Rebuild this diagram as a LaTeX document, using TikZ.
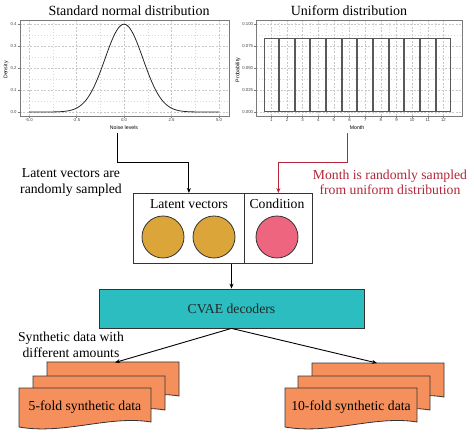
\documentclass[tikz,border=0pt]{standalone}
\usepackage{fontspec}
\setmainfont{Liberation Serif}
\setsansfont{Liberation Sans}
\usetikzlibrary{arrows.meta}
\definecolor{goldc}{HTML}{DBA53A}
\definecolor{pinkc}{HTML}{EE6580}
\definecolor{tealc}{HTML}{2BBDBF}
\definecolor{orngc}{HTML}{F5905C}
\definecolor{redt}{HTML}{B3263A}
\definecolor{gridc}{HTML}{C8C8C8}
\definecolor{framec}{HTML}{7A7A7A}
\newcommand\mydoc[2]{\begin{scope}[shift={(#1,#2)}]\draw[docst] (0,0) -- (132,0) -- (132,34) .. controls (90,27) and (45,47) .. (0,39) -- cycle;\end{scope}}
\begin{document}
\begin{tikzpicture}[x=1pt,y=-1pt,
  titlest/.style={font=\fontsize{14}{16}\selectfont, inner sep=0pt},
  lbl/.style={font=\fontsize{13.7}{15.5}\selectfont, align=center, inner sep=0pt},
  ticklbl/.style={font=\fontsize{4.3}{5}\sffamily, text=black!75, inner sep=0pt},
  axlbl/.style={font=\fontsize{5.2}{6}\sffamily, inner sep=0pt},
  framest/.style={draw=framec, line width=0.8pt, inner sep=0pt, anchor=north west},
  gmaj/.style={draw=gridc, line width=0.5pt, dash pattern=on 2pt off 1.5pt},
  gmin/.style={draw=gridc!70, line width=0.35pt, dash pattern=on 1pt off 2pt},
  tickst/.style={draw=framec, line width=0.5pt},
  conn/.style={line width=0.9pt, -{Stealth[length=5pt,width=4pt]}},
  boxst/.style={draw=black!80, line width=0.8pt, rectangle, inner sep=0pt},
  ball/.style={circle, draw=black!80, line width=0.8pt, minimum size=42pt, inner sep=0pt},
  docst/.style={fill=orngc, draw=black!80, line width=0.8pt}
]
\useasboundingbox (0,0) rectangle (474,438);

% ---------- titles ----------
\node[titlest] (t1) at (129,11) {Standard normal distribution};
\node[titlest] (t2) at (349,11) {Uniform distribution};

% ---------- left plot ----------
\foreach \xx in {52.75,100.25,147.75,195.25} \draw[gmin] (\xx,20) -- (\xx,116);
\foreach \yy in {101,79,57,35} \draw[gmin] (19.5,\yy) -- (229,\yy);
\foreach \xx in {29,76.5,124,171.5,219} \draw[gmaj] (\xx,20) -- (\xx,116);
\foreach \yy in {112,90,68,46,24} \draw[gmaj] (19.5,\yy) -- (229,\yy);
\draw[line width=0.8pt, black!85] plot[domain=-5:5, samples=121, smooth] ({124+19*\x},{112-87.76*exp(-\x*\x/2)});
\node[framest, minimum width=209.5pt, minimum height=96pt] (normplot) at (19.5,20) {};
\foreach \yy/\tl in {112/0.0,90/0.1,68/0.2,46/0.3,24/0.4} {
  \draw[tickst] (17.5,\yy) -- (19.5,\yy);
  \node[ticklbl, anchor=east] at (16.8,\yy) {\tl};
}
\foreach \xx/\tl in {29/-5.0,76.5/-2.5,124/0.0,171.5/2.5,219/5.0} {
  \draw[tickst] (\xx,116) -- (\xx,118);
  \node[ticklbl, anchor=north] at (\xx,118.8) {\tl};
}
\node[axlbl] (nl) at (124,127.5) {Noise levels};
\node[axlbl, rotate=90] (dl) at (6,70) {Density};

% ---------- right plot ----------
\foreach \i in {1,...,11} \draw[gmin] ({271.3+(\i-0.5)*15.65},20) -- ({271.3+(\i-0.5)*15.65},116);
\foreach \yy in {101,79,57,35} \draw[gmin] (256,\yy) -- (462,\yy);
\foreach \i in {1,...,12} \draw[gmaj] ({271.3+(\i-1)*15.65},20) -- ({271.3+(\i-1)*15.65},116);
\foreach \yy in {112,90,68,46,24.3} \draw[gmaj] (256,\yy) -- (462,\yy);
\foreach \i in {1,...,12} \draw[draw=black!65, line width=1pt] ({271.3+(\i-1)*15.65-7.3},112) rectangle ({271.3+(\i-1)*15.65+7.3},38.9);
\node[framest, minimum width=206pt, minimum height=96pt] (unifplot) at (256,20) {};
\foreach \yy/\tl in {112/0.000,90/0.025,68/0.050,46/0.075,24.3/0.100} {
  \draw[tickst] (254,\yy) -- (256,\yy);
  \node[ticklbl, anchor=east] at (253.3,\yy) {\tl};
}
\foreach \i in {1,...,12} {
  \draw[tickst] ({271.3+(\i-1)*15.65},116) -- ({271.3+(\i-1)*15.65},118);
  \node[ticklbl, anchor=north] at ({271.3+(\i-1)*15.65},118.8) {\i};
}
\node[axlbl] (ml) at (357,127.5) {Month};
\node[axlbl, rotate=90] (pl) at (238,70) {Probability};

% ---------- sampling ----------
\coordinate (nstart) at (117,133);
\coordinate (ustart) at (347,133);
\node[boxst, minimum width=111pt, minimum height=70pt, anchor=north west] (lv) at (133,193) {};
\node[boxst, minimum width=68pt, minimum height=70pt, anchor=north west] (cond) at (244,193) {};
\node[lbl] (lvt) at (189,204) {Latent vectors};
\node[lbl] (condt) at (277,204) {Condition};
\node[ball, fill=goldc] (c1) at (163,237) {};
\node[ball, fill=goldc] (c2) at (214,237) {};
\node[ball, fill=pinkc] (c3) at (277,237) {};

\draw[conn] (nstart) -- ++(0,29) -| (lv.north);
\draw[conn, draw=redt] (ustart) -- ++(0,29) -| (cond.north);

\node[lbl] (lvtxt) at (71,182.5) {Latent vectors are\\randomly sampled};
\node[lbl, text=redt] (mtxt) at (390,182.5) {Month is randomly sampled\\from uniform distribution};

% ---------- decoder ----------
\node[boxst, fill=tealc, minimum width=265pt, minimum height=39pt, font=\fontsize{13.7}{15}\selectfont, text=black!85] (cvae) at (231.5,308.5) {CVAE decoders};
\draw[conn] (lv.south -| cvae.north) -- (cvae.north);

% ---------- synthetic data ----------
\mydoc{47}{362}
\mydoc{33}{376}
\mydoc{19}{388}
\mydoc{312}{363}
\mydoc{298}{376}
\mydoc{285}{388}
\node[lbl] (d5) at (85,407.5) {5-fold synthetic data};
\node[lbl] (d10) at (351,407.5) {10-fold synthetic data};
\coordinate (d5top) at (115,362.5);
\coordinate (d10top) at (377,363);
\draw[conn] (cvae.south) -- (d5top);
\draw[conn] (cvae.south) -- (d10top);
\node[lbl] (stxt) at (71,345) {Synthetic data with\\different amounts};
\end{tikzpicture}
\end{document}
